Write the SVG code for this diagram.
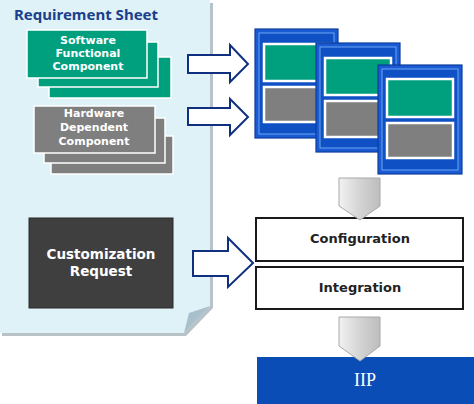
<svg xmlns="http://www.w3.org/2000/svg" width="474" height="404" viewBox="0 0 474 404">
  <defs>
    <style>
      .lbl { font-family: "DejaVu Sans", "Noto Sans", sans-serif; font-weight: bold; text-anchor: middle; }
      .wt { fill: #ffffff; }
      .teal { fill: #00a07f; stroke: #ffffff; stroke-width: 1.5; }
      .gray { fill: #7f7f7f; stroke: #ffffff; stroke-width: 1.5; }
      .harrow { fill: #ffffff; stroke: #10307f; stroke-width: 2; stroke-linejoin: miter; }
      .modOuter { fill: #1a5bd4; stroke: #0c3c9c; stroke-width: 1.2; }
      .modInner { fill: #0f50c4; stroke: #6aa6f2; stroke-width: 1; }
      .mg { fill: #00a07f; stroke: #ffffff; stroke-width: 2.5; }
      .mgr { fill: #7f7f7f; stroke: #ffffff; stroke-width: 2.5; }
      .step { fill: #ffffff; stroke: #1a1a1a; stroke-width: 2; }
      .garrow { fill: url(#gg); stroke: #a8a8a8; stroke-width: 1; }
    </style>
    <linearGradient id="gg" x1="0" y1="0" x2="1" y2="0">
      <stop offset="0" stop-color="#f2f2f2"/>
      <stop offset="0.5" stop-color="#d4d4d4"/>
      <stop offset="1" stop-color="#bdbdbd"/>
    </linearGradient>
  </defs>

  <rect x="0" y="0" width="474" height="404" fill="#ffffff"/>

  <g id="sheet">
    <polygon points="2,3 213,3 213,308 186,336 2,336" fill="#b8c3c8"/>
    <polygon points="0,0 210,0 210,306 184,333 0,333" fill="#def2f8"/>
    <polygon points="210,306 189,313 184,333" fill="#a9bfcb"/>
    <text x="14" y="20" style="font-family: 'Noto Sans', 'DejaVu Sans', sans-serif; font-weight: bold; font-size: 15px; fill: #1c3f8c;">Requirement Sheet</text>
  </g>

  <g id="software">
    <rect class="teal" x="49" y="57" width="122" height="41"/>
    <rect class="teal" x="38" y="42" width="120" height="45"/>
    <rect class="teal" x="27" y="30" width="120" height="48"/>
    <text class="lbl wt" x="88" y="44" font-size="11">Software</text>
    <text class="lbl wt" x="88" y="57" font-size="11">Functional</text>
    <text class="lbl wt" x="88" y="70" font-size="11">Component</text>
  </g>

  <g id="hardware">
    <rect class="gray" x="51" y="136" width="122" height="38"/>
    <rect class="gray" x="44" y="118" width="121" height="45"/>
    <rect class="gray" x="34" y="106" width="121" height="47"/>
    <text class="lbl wt" x="94" y="117" font-size="11">Hardware</text>
    <text class="lbl wt" x="94" y="131" font-size="11">Dependent</text>
    <text class="lbl wt" x="94" y="145" font-size="11">Component</text>
  </g>

  <g id="customization">
    <rect x="29" y="218" width="144" height="90" fill="#3f3f3f" stroke="#2a2a2a" stroke-width="1"/>
    <text class="lbl wt" x="101" y="259" font-size="13.5">Customization</text>
    <text class="lbl wt" x="101" y="276" font-size="13.5">Request</text>
  </g>

  <g id="module1">
    <rect class="modOuter" x="255" y="29" width="83" height="109"/>
    <rect class="modInner" x="259" y="33" width="75" height="101"/>
    <rect class="mg" x="264" y="44" width="66" height="37"/>
    <rect class="mgr" x="264" y="87" width="66" height="35"/>
  </g>
  <g id="module2">
    <rect class="modOuter" x="316" y="43" width="84" height="109"/>
    <rect class="modInner" x="320" y="47" width="76" height="101"/>
    <rect class="mg" x="325" y="58" width="66" height="37"/>
    <rect class="mgr" x="325" y="101" width="66" height="36"/>
  </g>
  <g id="module3">
    <rect class="modOuter" x="378" y="65" width="84" height="109"/>
    <rect class="modInner" x="382" y="69" width="76" height="101"/>
    <rect class="mg" x="387" y="79" width="66" height="38"/>
    <rect class="mgr" x="387" y="123" width="66" height="35"/>
  </g>

  <g id="configuration">
    <rect class="step" x="256" y="218" width="207" height="43"/>
    <text class="lbl" x="360" y="243" font-size="13" fill="#222222">Configuration</text>
  </g>
  <g id="integration">
    <rect class="step" x="256" y="267" width="207" height="42"/>
    <text class="lbl" x="360" y="292" font-size="13" fill="#222222">Integration</text>
  </g>

  <g id="iip">
    <rect x="257" y="357" width="217" height="47" fill="#0b4db6"/>
    <text x="365" y="386" text-anchor="middle" style="font-family: 'Liberation Serif', serif; font-size: 18px; fill: #ffffff;">IIP</text>
  </g>

  <g id="connectors">
    <polygon class="harrow" points="188,55 230,55 230,45 248,64 230,82 230,73 188,73"/>
    <polygon class="harrow" points="188,108 230,108 230,99 248,117 230,135 230,125 188,125"/>
    <polygon class="harrow" points="193,251 228,251 228,238 253,263 228,287 228,276 193,276"/>
    <polygon class="garrow" points="339,178 380,178 380,206 360,220 339,206"/>
    <polygon class="garrow" points="339,317 380,317 380,346 360,361 339,346"/>
  </g>
</svg>
